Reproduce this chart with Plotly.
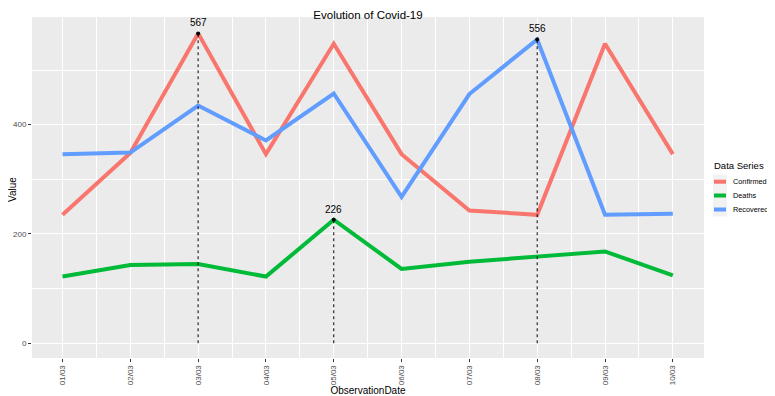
import plotly.graph_objects as go
import numpy as np

dates = ["01/03", "02/03", "03/03", "04/03", "05/03", "06/03", "07/03", "08/03", "09/03", "10/03"]
confirmed = [235, 348, 567, 346, 548, 346, 243, 235, 548, 346]
deaths = [122, 143, 145, 122, 226, 136, 149, 158, 168, 124]
recovered = [346, 349, 435, 371, 457, 268, 456, 556, 235, 237]

series = [("Confirmed", confirmed, "#F8766D"),
          ("Deaths", deaths, "#00BA38"),
          ("Recovered", recovered, "#619CFF")]

FONT = "Liberation Sans, Arial, sans-serif"
xi = list(range(len(dates)))

# The page has an 8px body margin; the visible figure area is page x 8..767, y 8..396.
W, H = 759, 388
OFF = 8  # page offset
ML, MT = 32 - OFF, 17 - OFF
MR, MB = W + OFF - 704, H + OFF - 358
PW, PH = W - ML - MR, H - MT - MB


def px(xp):  # page x -> paper x
    return (xp - OFF - ML) / PW


def py(yp):  # page y -> paper y
    return (H - MB + OFF - yp) / PH


fig = go.Figure()
for name, vals, col in series:
    fig.add_trace(go.Scatter(x=xi, y=vals, mode="lines", name=name,
                             line=dict(color=col, width=4), showlegend=False))

annotations = []
for name, vals, col in series:
    k = int(np.argmax(vals))
    fig.add_trace(go.Scatter(x=[xi[k], xi[k]], y=[0, vals[k]], mode="lines",
                             line=dict(color="black", width=1, dash="dot"),
                             showlegend=False, hoverinfo="skip"))
    fig.add_trace(go.Scatter(x=[xi[k]], y=[vals[k]], mode="markers",
                             marker=dict(color="black", size=4),
                             showlegend=False, hoverinfo="skip"))
    annotations.append(dict(x=xi[k], y=vals[k], text=str(vals[k]), showarrow=False,
                            yshift=10.5, font=dict(size=10, color="black", family=FONT)))

# Legend (drawn by hand to match ggplot's compact key layout)
shapes = []
LX = 713
annotations.append(dict(xref="paper", yref="paper", x=px(LX - 1), y=py(166), xanchor="left",
                        yanchor="middle", text="Data Series", showarrow=False,
                        font=dict(size=9.5, color="black", family=FONT)))
shapes.append(dict(type="rect", xref="paper", yref="paper", x0=px(LX), x1=px(LX + 14),
                   y0=py(174.5), y1=py(216.5), fillcolor="#F2F2F2", line=dict(width=0),
                   layer="below"))
key_y = [181.7, 195.5, 209.5]
for (name, vals, col), ky in zip(series, key_y):
    shapes.append(dict(type="line", xref="paper", yref="paper", x0=px(LX + 1), x1=px(LX + 13),
                       y0=py(ky), y1=py(ky), line=dict(color=col, width=4)))
    annotations.append(dict(xref="paper", yref="paper", x=px(LX + 18), y=py(ky), xanchor="left",
                            yanchor="middle", text=name, showarrow=False,
                            font=dict(size=7.3, color="black", family=FONT)))

# y axis title
annotations.append(dict(xref="paper", yref="paper", x=px(12), y=py(190), xanchor="center",
                        yanchor="middle", text="Value", textangle=-90, showarrow=False,
                        font=dict(size=10, color="black", family=FONT)))

fig.update_layout(
    width=W, height=H,
    margin=dict(l=ML, r=MR, t=MT, b=MB, autoexpand=False),
    paper_bgcolor="white", plot_bgcolor="#EBEBEB",
    font=dict(family=FONT, size=10, color="black"),
    title=dict(text="Evolution of Covid-19", x=px(368), xanchor="center", xref="paper",
               y=1 - 6.5 / H, yanchor="middle", yref="container",
               font=dict(size=11.5, color="black")),
    showlegend=False,
    annotations=annotations,
    shapes=shapes,
)
fig.update_xaxes(
    range=[-0.45, 9.46], tickmode="array", tickvals=xi, ticktext=dates,
    tickangle=-90, tickfont=dict(size=8, color="#4D4D4D"),
    ticks="outside", ticklen=3, tickcolor="#333333",
    showgrid=True, gridcolor="white", gridwidth=1.1,
    minor=dict(dtick=1, tick0=0.5, showgrid=True, gridcolor="white", gridwidth=0.5),
    zeroline=False, showline=False, automargin=False,
    title=dict(text="ObservationDate", font=dict(size=10), standoff=3),
)
fig.update_yaxes(
    range=[-27, 597], tickmode="array", tickvals=[0, 200, 400],
    tickfont=dict(size=8, color="#4D4D4D"),
    ticks="outside", ticklen=3, tickcolor="#333333",
    showgrid=True, gridcolor="white", gridwidth=1.1,
    minor=dict(tickmode="array", tickvals=[100, 300, 500], showgrid=True, gridcolor="white", gridwidth=0.5, ticks=""),
    zeroline=False, showline=False, automargin=False,
)

fig.write_html("out.html")
